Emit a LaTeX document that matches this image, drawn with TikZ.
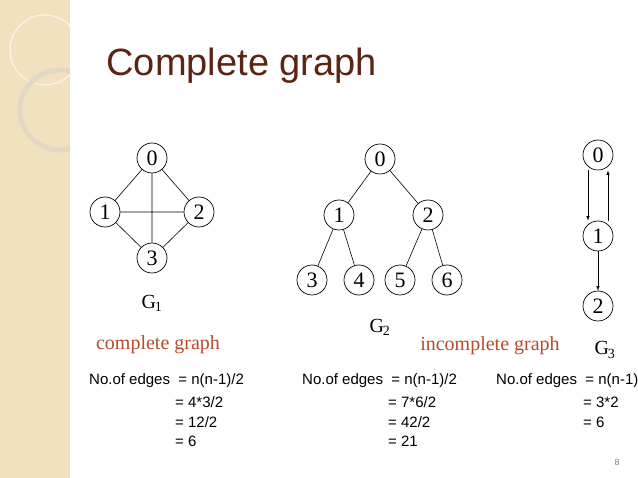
\documentclass[tikz,border=0pt]{standalone}
\usepackage{fontspec}
\setmainfont{Liberation Sans}
\newfontfamily\tms{Liberation Serif}
\definecolor{strip}{HTML}{F2E1BE}
\definecolor{titlec}{HTML}{5B2413}
\definecolor{capc}{HTML}{B84A28}
\begin{document}
\begin{tikzpicture}[x=1pt,y=-1pt,
 v/.style={circle,draw,line width=0.7pt,minimum size=30pt,inner sep=0pt,font=\tms\fontsize{22}{22}\selectfont},
 ed/.style={line width=0.6pt},
 gl/.style={font=\tms\fontsize{20}{20}\selectfont},
 captxt/.style={font=\tms\fontsize{20}{20}\selectfont,text=capc},
 txt/.style={font=\fontsize{15}{18}\selectfont,anchor=west,inner sep=0pt}]
\useasboundingbox (0,0) rectangle (638,478);
\fill[strip] (0,0) rectangle (70,478);
\begin{scope}
\clip (0,0) rectangle (70,478);
\draw[white!70!strip,line width=1pt] (45,50) circle (35);
\draw[white!60!gray!40!strip,line width=5pt] (60,110) circle (40);
\end{scope}
\node[font=\fontsize{38}{38}\selectfont,text=titlec,anchor=west] (title) at (103,66) {Complete graph};
% G1
\node[v] (a0) at (152,158) {0};
\node[v] (a1) at (105,212) {1};
\node[v] (a2) at (199,212) {2};
\node[v] (a3) at (152,258) {3};
\draw[ed] (a0)--(a1) (a0)--(a2) (a0)--(a3) (a1)--(a2) (a1)--(a3) (a2)--(a3);
\node[gl] (g1) at (152,303) {G\textsubscript{\kern-1pt1}};
% G2
\node[v] (b0) at (380,159) {0};
\node[v] (b1) at (339,215) {1};
\node[v] (b2) at (428,215) {2};
\node[v] (b3) at (312,280) {3};
\node[v] (b4) at (359,280) {4};
\node[v] (b5) at (400,280) {5};
\node[v] (b6) at (447,280) {6};
\draw[ed] (b0)--(b1) (b0)--(b2) (b1)--(b3) (b1)--(b4) (b2)--(b5) (b2)--(b6);
\node[gl] (g2) at (380,327) {G\textsubscript{\kern-1pt2}};
% G3
\node[v] (c0) at (598,155) {0};
\node[v] (c1) at (598,236) {1};
\node[v] (c2) at (598,306) {2};
\draw[ed,-latex] ([xshift=-10pt]c0.south) -- ([xshift=-10pt]c1.north);
\draw[ed,-latex] ([xshift=10pt]c1.north) -- ([xshift=10pt]c0.south);
\draw[ed,-latex] (c1)--(c2);
\node[gl] (g3) at (605,350) {G\textsubscript{\kern-1pt3}};
\node[captxt] (k1) at (158,345) {complete graph};
\node[captxt] (k2) at (490,346) {incomplete graph};
% formulas
\node[txt] (f1) at (89,381) {No.of edges \ = n(n-1)/2};
\node[txt] (f1b) at (175,402) {= 4*3/2};
\node[txt] (f1c) at (175,422) {= 12/2};
\node[txt] (f1d) at (175,441) {= 6};
\node[txt] (f2) at (302,381) {No.of edges \ = n(n-1)/2};
\node[txt] (f2b) at (388,402) {= 7*6/2};
\node[txt] (f2c) at (388,422) {= 42/2};
\node[txt] (f2d) at (388,441) {= 21};
\begin{scope}
\clip (0,0) rectangle (638,478);
\node[txt] (f3) at (496,381) {No.of edges \ = n(n-1)/2};
\end{scope}
\node[txt] (f3b) at (583,402) {= 3*2};
\node[txt] (f3c) at (583,422) {= 6};
\node[font=\fontsize{9}{9}\selectfont,text=gray] (pg) at (617,462) {8};
\end{tikzpicture}
\end{document}
